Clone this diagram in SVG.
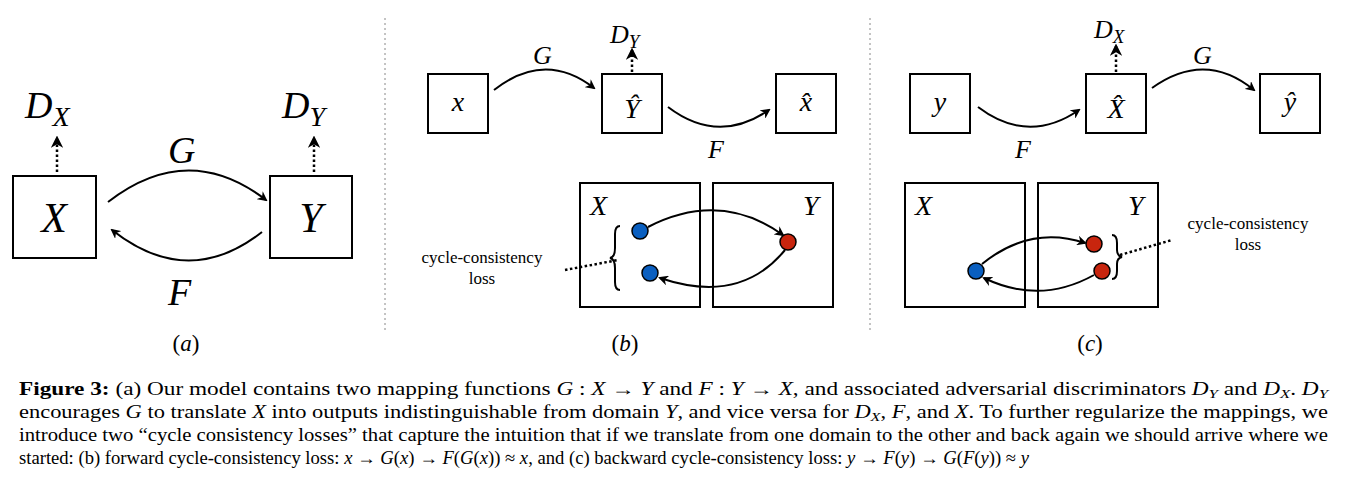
<svg xmlns="http://www.w3.org/2000/svg" width="1346" height="484" viewBox="0 0 1346 484">
<defs>
<marker id="ah" viewBox="0 0 10 10" refX="8" refY="5" markerWidth="5" markerHeight="5" orient="auto"><path d="M0,0 L10,5 L0,10 L3,5 Z" fill="#000"/></marker>
<style>
text{font-family:"Liberation Serif","Times New Roman",Times,"DejaVu Serif",serif}
.m{font-style:italic;fill:#000}
.t{fill:#000}
.b{fill:#fff;stroke:#000;stroke-width:2}
.c{fill:none;stroke:#000;stroke-width:2}
.d{fill:none;stroke:#000;stroke-width:2.5;stroke-dasharray:2.5 2.5}
.dv{stroke:#888;stroke-width:1;stroke-dasharray:2 3}
.bl{fill:#0a5fc0;stroke:#000;stroke-width:1.5}
.rd{fill:#c8250e;stroke:#000;stroke-width:1.5}
</style>
</defs>
<rect width="1346" height="484" fill="#fff"/>
<line class="dv" x1="385" y1="18" x2="385" y2="330"/>
<line class="dv" x1="870" y1="18" x2="870" y2="330"/>
<g id="nodeX"><rect class="b" x="13" y="176" width="83" height="82"/><text class="m" x="54" y="232" font-size="42" text-anchor="middle">X</text></g>
<g id="nodeY"><rect class="b" x="270" y="176" width="82" height="82"/><text class="m" x="311" y="232" font-size="42" text-anchor="middle">Y</text></g>
<g id="DX"><text class="m" x="25" y="118" font-size="38">D<tspan font-size="28" dy="8">X</tspan></text></g>
<g id="DY"><text class="m" x="282" y="118" font-size="38">D<tspan font-size="28" dy="8">Y</tspan></text></g>
<g id="nx"><rect class="b" x="428" y="74" width="60" height="59"/><text class="m" x="458" y="111" font-size="28" text-anchor="middle">x</text></g>
<g id="nYh"><rect class="b" x="602" y="74" width="60" height="59"/><text class="m" x="632" y="118" font-size="28" text-anchor="middle">Ŷ</text></g>
<g id="nxh"><rect class="b" x="776" y="74" width="60" height="59"/><text class="m" x="806" y="111" font-size="28" text-anchor="middle">x̂</text></g>
<g id="DYb"><text class="m" x="610" y="43" font-size="26">D<tspan font-size="19" dy="5">Y</tspan></text></g>
<g id="bX"><rect class="b" x="580" y="183" width="120" height="124"/><text class="m" x="590" y="215" font-size="28">X</text></g>
<g id="bY"><rect class="b" x="713" y="183" width="120" height="124"/><text class="m" x="803" y="215" font-size="28">Y</text></g>
<g id="ny"><rect class="b" x="910" y="74" width="60" height="59"/><text class="m" x="940" y="111" font-size="28" text-anchor="middle">y</text></g>
<g id="nXh"><rect class="b" x="1086" y="74" width="60" height="59"/><text class="m" x="1116" y="118" font-size="28" text-anchor="middle">X̂</text></g>
<g id="nyh"><rect class="b" x="1260" y="74" width="60" height="59"/><text class="m" x="1290" y="111" font-size="28" text-anchor="middle">ŷ</text></g>
<g id="DXc"><text class="m" x="1094" y="38" font-size="26">D<tspan font-size="19" dy="5">X</tspan></text></g>
<g id="cX"><rect class="b" x="905" y="183" width="120" height="124"/><text class="m" x="915" y="215" font-size="28">X</text></g>
<g id="cY"><rect class="b" x="1038" y="183" width="120" height="124"/><text class="m" x="1128" y="215" font-size="28">Y</text></g>
<g id="connectors">
<line class="d" x1="57" y1="172" x2="57" y2="138" marker-end="url(#ah)"/>
<line class="d" x1="314" y1="172" x2="314" y2="138" marker-end="url(#ah)"/>
<path class="c" d="M108,202 Q188,140 266,200" marker-end="url(#ah)"/>
<path class="c" d="M262,232 Q188,290 112,230" marker-end="url(#ah)"/>
<line class="d" x1="632" y1="72" x2="632" y2="50" marker-end="url(#ah)"/>
<path class="c" d="M494,90 Q545,50 594,88" marker-end="url(#ah)"/>
<path class="c" d="M668,107 Q718,145 769,110" marker-end="url(#ah)"/>
<path class="c" d="M648,227 Q720,190 783,235" marker-end="url(#ah)"/>
<path class="c" d="M785,250 Q740,305 660,278" marker-end="url(#ah)"/>
<line class="d" x1="565" y1="270" x2="618" y2="260"/>
<path class="c" stroke-width="1.3" d="M620,226 q-5,0 -5,8 v14 q0,9 -5,10 q5,1 5,10 v14 q0,8 5,8"/>
<line class="d" x1="1116" y1="72" x2="1116" y2="46" marker-end="url(#ah)"/>
<path class="c" d="M1152,88 Q1205,50 1254,90" marker-end="url(#ah)"/>
<path class="c" d="M978,107 Q1028,145 1079,110" marker-end="url(#ah)"/>
<path class="c" d="M982,264 Q1030,225 1085,243" marker-end="url(#ah)"/>
<path class="c" d="M1094,275 Q1040,305 984,278" marker-end="url(#ah)"/>
<line class="d" x1="1120" y1="255" x2="1172" y2="240"/>
<path class="c" stroke-width="1.3" d="M1112,235 q5,0 5,8 v7 q0,6 5,7 q-5,1 -5,7 v7 q0,8 -5,8"/>
</g>
<circle class="bl" cx="640" cy="231" r="8"/>
<circle class="bl" cx="650" cy="273" r="8"/>
<circle class="rd" cx="788" cy="242" r="8"/>
<circle class="bl" cx="976" cy="271" r="8"/>
<circle class="rd" cx="1094" cy="244" r="8"/>
<circle class="rd" cx="1102" cy="271" r="8"/>
<text class="m" x="168" y="163" font-size="38">G</text>
<text class="m" x="168" y="305" font-size="38">F</text>
<text class="m" x="533" y="64" font-size="26">G</text>
<text class="m" x="708" y="158" font-size="26">F</text>
<text class="m" x="1193" y="64" font-size="26">G</text>
<text class="m" x="1015" y="158" font-size="26">F</text>
<text class="t" x="482" y="263" font-size="17" text-anchor="middle">cycle-consistency</text>
<text class="t" x="482" y="284" font-size="17" text-anchor="middle">loss</text>
<text class="t" x="1248" y="229" font-size="17" text-anchor="middle">cycle-consistency</text>
<text class="t" x="1248" y="250" font-size="17" text-anchor="middle">loss</text>
<text class="t" x="186" y="351" font-size="23" text-anchor="middle">(<tspan font-style="italic">a</tspan>)</text>
<text class="t" x="625" y="351" font-size="23" text-anchor="middle">(<tspan font-style="italic">b</tspan>)</text>
<text class="t" x="1090" y="351" font-size="23" text-anchor="middle">(<tspan font-style="italic">c</tspan>)</text>
<g font-size="18">
<text x="19" y="395" textLength="1309" lengthAdjust="spacingAndGlyphs"><tspan font-weight="bold">Figure 3:</tspan> (a) Our model contains two mapping functions <tspan font-style="italic">G</tspan> : <tspan font-style="italic">X</tspan> → <tspan font-style="italic">Y</tspan> and <tspan font-style="italic">F</tspan> : <tspan font-style="italic">Y</tspan> → <tspan font-style="italic">X</tspan>, and associated adversarial discriminators <tspan font-style="italic">D<tspan font-size="13" dy="3">Y</tspan></tspan><tspan dy="-3"> and </tspan><tspan font-style="italic">D<tspan font-size="13" dy="3">X</tspan></tspan><tspan dy="-3">. </tspan><tspan font-style="italic">D<tspan font-size="13" dy="3">Y</tspan></tspan></text>
<text x="19" y="418" textLength="1309" lengthAdjust="spacingAndGlyphs">encourages <tspan font-style="italic">G</tspan> to translate <tspan font-style="italic">X</tspan> into outputs indistinguishable from domain <tspan font-style="italic">Y</tspan>, and vice versa for <tspan font-style="italic">D<tspan font-size="13" dy="3">X</tspan></tspan><tspan dy="-3">, </tspan><tspan font-style="italic">F</tspan>, and <tspan font-style="italic">X</tspan>. To further regularize the mappings, we</text>
<text x="19" y="441" textLength="1309" lengthAdjust="spacingAndGlyphs">introduce two “cycle consistency losses” that capture the intuition that if we translate from one domain to the other and back again we should arrive where we</text>
<text x="19" y="464" textLength="1010" lengthAdjust="spacingAndGlyphs">started: (b) forward cycle-consistency loss: <tspan font-style="italic">x</tspan> → <tspan font-style="italic">G</tspan>(<tspan font-style="italic">x</tspan>) → <tspan font-style="italic">F</tspan>(<tspan font-style="italic">G</tspan>(<tspan font-style="italic">x</tspan>)) ≈ <tspan font-style="italic">x</tspan>, and (c) backward cycle-consistency loss: <tspan font-style="italic">y</tspan> → <tspan font-style="italic">F</tspan>(<tspan font-style="italic">y</tspan>) → <tspan font-style="italic">G</tspan>(<tspan font-style="italic">F</tspan>(<tspan font-style="italic">y</tspan>)) ≈ <tspan font-style="italic">y</tspan></text>
</g>
</svg>
